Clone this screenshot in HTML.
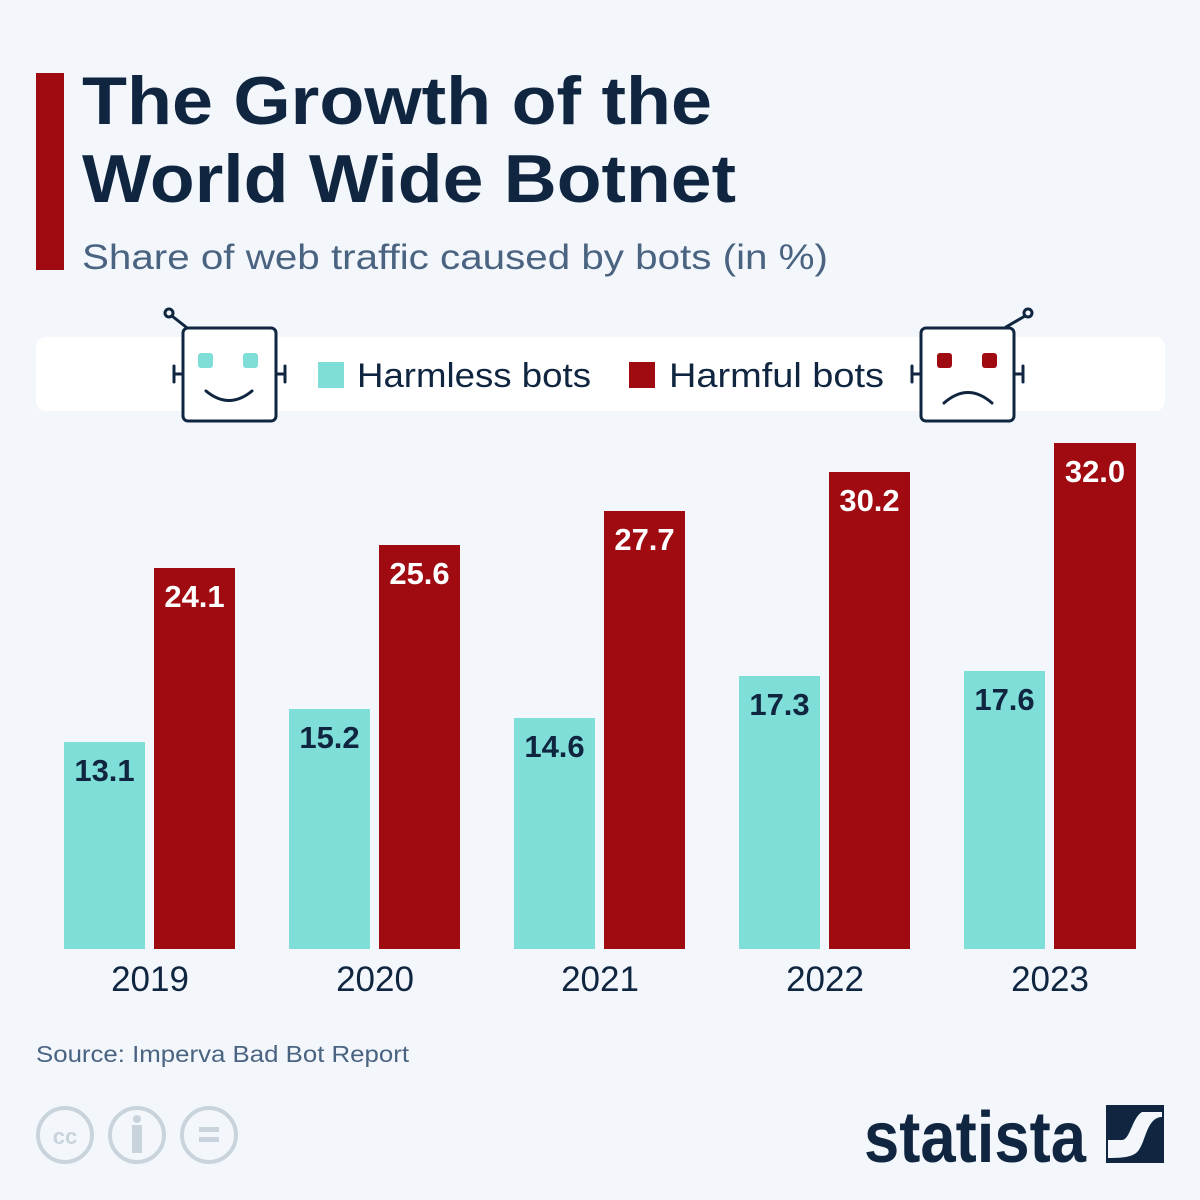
<!DOCTYPE html>
<html><head><meta charset="utf-8"><style>
html,body{margin:0;padding:0;background:#f3f7fb;}
svg{display:block;font-family:"Liberation Sans","DejaVu Sans",sans-serif;}
</style></head><body>
<svg width="1200" height="1200" viewBox="0 0 1200 1200" xmlns="http://www.w3.org/2000/svg">
<rect width="1200" height="1200" fill="#f3f7fb"/>
<rect x="36" y="73" width="28" height="197" fill="#a00a11"/>
<text x="82" y="124" font-size="68" font-weight="bold" fill="#0f2540" textLength="630" lengthAdjust="spacingAndGlyphs">The Growth of the</text>
<text x="82" y="202" font-size="68" font-weight="bold" fill="#0f2540" textLength="654" lengthAdjust="spacingAndGlyphs">World Wide Botnet</text>
<text x="82" y="269" font-size="35" fill="#4a6381" textLength="746" lengthAdjust="spacingAndGlyphs">Share of web traffic caused by bots (in %)</text>
<rect x="36" y="337" width="1129" height="74" rx="10" fill="#ffffff"/>
<!-- happy robot -->
<g stroke="#0f2540" stroke-width="3" fill="none" stroke-linecap="round">
<circle cx="169" cy="313" r="4"/>
<line x1="172" y1="316" x2="186" y2="327"/>
<rect x="183" y="328" width="93" height="93" rx="5" fill="#fff"/>
<line x1="174" y1="374" x2="183" y2="374"/><line x1="174" y1="366" x2="174" y2="382"/>
<line x1="276" y1="374" x2="285" y2="374"/><line x1="285" y1="366" x2="285" y2="382"/>
<path d="M206 391 Q229 410 252 391"/>
</g>
<rect x="198" y="353" width="15" height="15" rx="3" fill="#7fdfd8"/>
<rect x="243" y="353" width="15" height="15" rx="3" fill="#7fdfd8"/>
<!-- sad robot -->
<g stroke="#0f2540" stroke-width="3" fill="none" stroke-linecap="round">
<circle cx="1028" cy="313" r="4"/>
<line x1="1025" y1="316" x2="1006" y2="327"/>
<rect x="921" y="328" width="93" height="93" rx="5" fill="#fff"/>
<line x1="912" y1="374" x2="921" y2="374"/><line x1="912" y1="366" x2="912" y2="382"/>
<line x1="1014" y1="374" x2="1023" y2="374"/><line x1="1023" y1="366" x2="1023" y2="382"/>
<path d="M944 403 Q968 382 992 403"/>
</g>
<rect x="937" y="353" width="15" height="15" rx="3" fill="#a00a11"/>
<rect x="982" y="353" width="15" height="15" rx="3" fill="#a00a11"/>
<rect x="318" y="362" width="26" height="26" fill="#7fdfd8"/>
<text x="357" y="387" font-size="34" fill="#0f2540" textLength="234" lengthAdjust="spacingAndGlyphs">Harmless bots</text>
<rect x="629" y="362" width="26" height="26" fill="#a00a11"/>
<text x="669" y="387" font-size="34" fill="#0f2540" textLength="215" lengthAdjust="spacingAndGlyphs">Harmful bots</text>
<!-- bars -->
<g font-size="31" font-weight="bold" text-anchor="middle">
<rect x="64" y="742" width="81" height="207" fill="#7fdfd8"/><text x="104.5" y="781" fill="#0f2540">13.1</text>
<rect x="154" y="568" width="81" height="381" fill="#a00a11"/><text x="194.5" y="607" fill="#fff">24.1</text>
<rect x="289" y="709" width="81" height="240" fill="#7fdfd8"/><text x="329.5" y="748" fill="#0f2540">15.2</text>
<rect x="379" y="545" width="81" height="404" fill="#a00a11"/><text x="419.5" y="584" fill="#fff">25.6</text>
<rect x="514" y="718" width="81" height="231" fill="#7fdfd8"/><text x="554.5" y="757" fill="#0f2540">14.6</text>
<rect x="604" y="511" width="81" height="438" fill="#a00a11"/><text x="644.5" y="550" fill="#fff">27.7</text>
<rect x="739" y="676" width="81" height="273" fill="#7fdfd8"/><text x="779.5" y="715" fill="#0f2540">17.3</text>
<rect x="829" y="472" width="81" height="477" fill="#a00a11"/><text x="869.5" y="511" fill="#fff">30.2</text>
<rect x="964" y="671" width="81" height="278" fill="#7fdfd8"/><text x="1004.5" y="710" fill="#0f2540">17.6</text>
<rect x="1054" y="443" width="82" height="506" fill="#a00a11"/><text x="1095" y="482" fill="#fff">32.0</text>
</g>
<g font-size="35" fill="#0f2540" text-anchor="middle">
<text x="150" y="991">2019</text><text x="375" y="991">2020</text><text x="600" y="991">2021</text><text x="825" y="991">2022</text><text x="1050" y="991">2023</text>
</g>
<text x="36" y="1062" font-size="23" fill="#4a6381" textLength="373" lengthAdjust="spacingAndGlyphs">Source: Imperva Bad Bot Report</text>
<g stroke="#c8d3dc" stroke-width="4" fill="none">
<circle cx="65" cy="1135" r="27"/><circle cx="137" cy="1135" r="27"/><circle cx="209" cy="1135" r="27"/>
</g>
<text x="65" y="1144" font-size="22" font-weight="bold" fill="#c8d3dc" text-anchor="middle">cc</text>
<circle cx="137" cy="1119" r="4" fill="#c8d3dc"/><rect x="132" y="1125" width="10" height="28" fill="#c8d3dc"/>
<rect x="199" y="1127" width="20" height="5" fill="#c8d3dc"/><rect x="199" y="1137" width="20" height="5" fill="#c8d3dc"/>
<text x="864" y="1162" font-size="72" font-weight="bold" fill="#0f2540" textLength="222" lengthAdjust="spacingAndGlyphs">statista</text>
<rect x="1106" y="1105" width="58" height="58" fill="#0f2540"/>
<path d="M1108 1140 L1122 1140 C1130 1140 1132 1118 1142 1112 L1162 1112 L1162 1117 C1148 1117 1146 1138 1140 1148 C1136 1156 1128 1158 1108 1158 Z" fill="#f3f7fb"/>
</svg>
</body></html>
